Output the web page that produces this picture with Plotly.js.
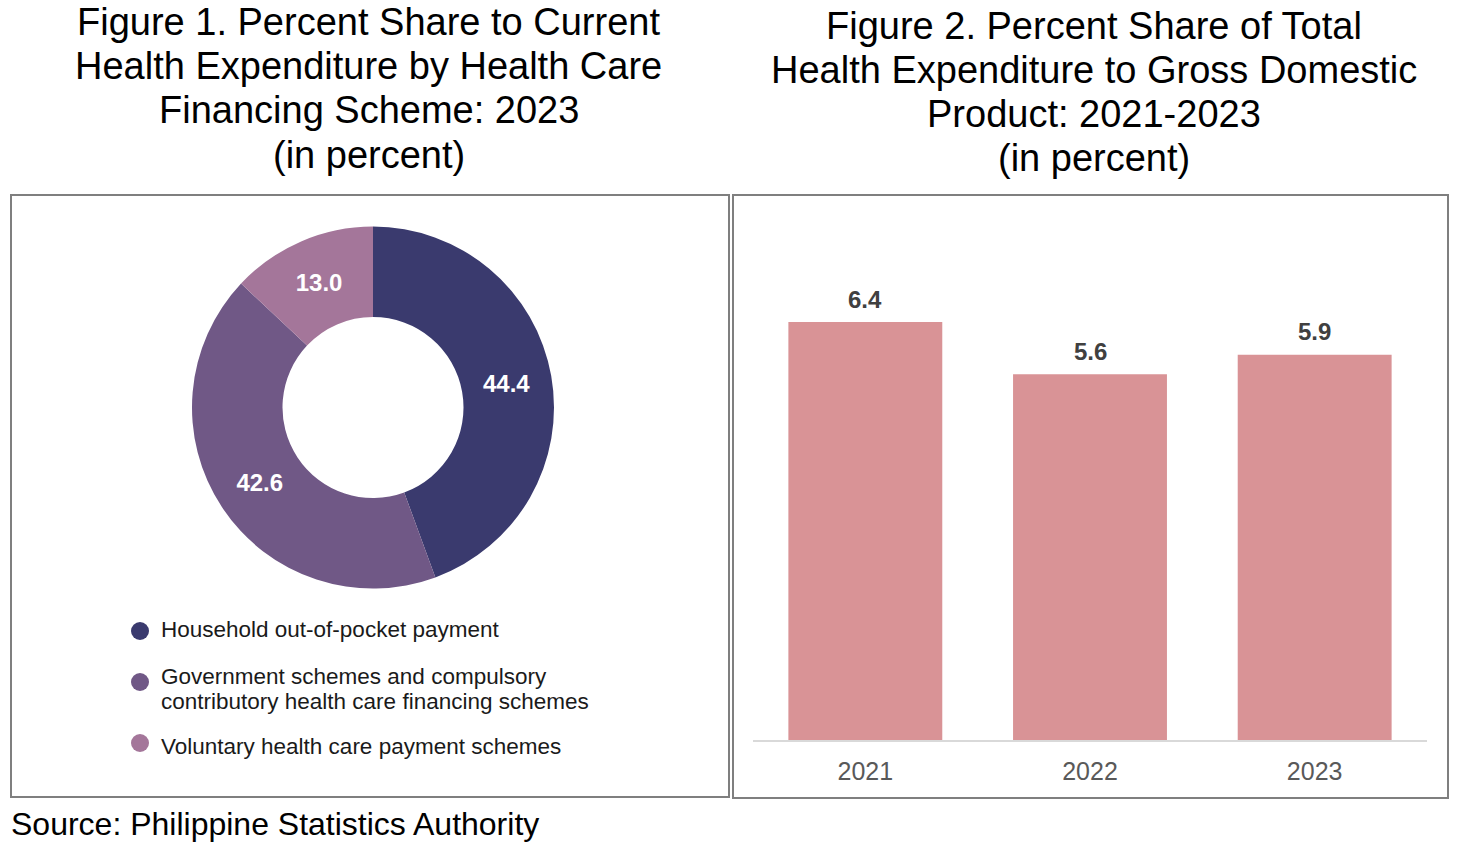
<!DOCTYPE html>
<html>
<head>
<meta charset="utf-8">
<script src="https://cdn.plot.ly/plotly-3.0.1.min.js"></script>
<style>
  html, body { margin: 0; padding: 0; background: #ffffff; }
  #chart { width: 1459px; height: 846px; }
</style>
</head>
<body>
<div id="chart"></div>
<script>
// ---------- Data ----------
const schemeLabels = [
  "Household out-of-pocket payment",
  "Government schemes and compulsory<br>contributory health care financing schemes",
  "Voluntary health care payment schemes"
];
const schemeShares = [44.4, 42.6, 13.0];
const schemeColors = ["#3A3A6E", "#705886", "#A4769A"];

const years = ["2021", "2022", "2023"];
const theShareGdp = [6.4, 5.6, 5.9];

const title1Lines = [
  "Figure 1. Percent Share to Current",
  "Health Expenditure by Health Care",
  "Financing Scheme: 2023",
  "(in percent)"
];
const title2Lines = [
  "Figure 2. Percent Share of Total",
  "Health Expenditure to Gross Domestic",
  "Product: 2021-2023",
  "(in percent)"
];
const sourceText = "Source: Philippine Statistics Authority";

// ---------- Layout helpers ----------
const W = 1459, H = 846;
const px = x => x / W;
const py = y => 1 - y / H;
const FONT = "Liberation Sans, Arial, sans-serif";

const annotations = [];
const shapes = [];

// Titles
const t1y = [22, 66, 110, 155];
title1Lines.forEach((t, i) => annotations.push({
  xref: "paper", yref: "paper", x: px(369), y: py(t1y[i]),
  xanchor: "center", yanchor: "middle", showarrow: false, text: t,
  font: {family: FONT, size: 38, color: "#000000"}
}));
const t2y = [26, 70, 114, 158];
title2Lines.forEach((t, i) => annotations.push({
  xref: "paper", yref: "paper", x: px(1094), y: py(t2y[i]),
  xanchor: "center", yanchor: "middle", showarrow: false, text: t,
  font: {family: FONT, size: 38, color: "#000000"}
}));

// Source
annotations.push({
  xref: "paper", yref: "paper", x: px(9), y: py(824),
  xanchor: "left", yanchor: "middle", showarrow: false, text: sourceText,
  font: {family: FONT, size: 32, color: "#000000"}
});

// Panel borders
shapes.push({type: "rect", xref: "paper", yref: "paper",
  x0: px(11), x1: px(729), y0: py(797), y1: py(195),
  line: {color: "#7F7F7F", width: 2}, fillcolor: "rgba(0,0,0,0)", layer: "below"});
shapes.push({type: "rect", xref: "paper", yref: "paper",
  x0: px(733), x1: px(1448), y0: py(798), y1: py(195),
  line: {color: "#7F7F7F", width: 2}, fillcolor: "rgba(0,0,0,0)", layer: "below"});

// Custom legend (circle markers + text)
const legY = [631, 682, 743];
const legTextY = [[629], [676, 701], [746]];
schemeLabels.forEach((lab, i) => {
  const r = 9;
  shapes.push({type: "circle", xref: "paper", yref: "paper",
    x0: px(140 - r), x1: px(140 + r), y0: py(legY[i] + r), y1: py(legY[i] - r),
    fillcolor: schemeColors[i], line: {width: 0}});
  lab.split("<br>").forEach((line, j) => annotations.push({
    xref: "paper", yref: "paper", x: px(159), y: py(legTextY[i][j]),
    xanchor: "left", yanchor: "middle", showarrow: false, text: line,
    font: {family: FONT, size: 22.5, color: "#1a1a1a"}
  }));
});

// Bar value labels (x given as category index)
years.forEach((yr, i) => annotations.push({
  xref: "x", yref: "y", x: i, y: theShareGdp[i],
  xanchor: "center", yanchor: "middle", yshift: 23, showarrow: false,
  text: theShareGdp[i].toFixed(1),
  font: {family: FONT, size: 24, color: "#404040", weight: "bold"}
}));

const barTrace = {
  type: "bar",
  x: years,
  y: theShareGdp,
  marker: {color: "#D99396"},
  width: 0.685,
  xaxis: "x", yaxis: "y",
  showlegend: false,
  hoverinfo: "x+y"
};

const pieTrace = {
  type: "pie",
  labels: schemeLabels,
  values: schemeShares,
  sort: false,
  direction: "clockwise",
  rotation: 0,
  hole: 0.5,
  marker: {colors: schemeColors, line: {color: "#ffffff", width: 0}},
  texttemplate: "%{value:.1f}",
  textposition: "inside",
  insidetextorientation: "horizontal",
  insidetextfont: {family: FONT, size: 24, color: "#ffffff", weight: "bold"},
  domain: {x: [px(192), px(554)], y: [py(589), py(226)]},
  showlegend: false,
  hoverinfo: "label+value"
};

const layout = {
  width: W, height: H,
  margin: {l: 0, r: 0, t: 0, b: 0},
  paper_bgcolor: "#ffffff",
  plot_bgcolor: "rgba(0,0,0,0)",
  showlegend: false,
  font: {family: FONT},
  xaxis: {
    type: "category",
    categoryorder: "array", categoryarray: years,
    range: [-0.5, years.length - 0.5],
    domain: [px(753), px(1427)],
    anchor: "y",
    showline: true, linecolor: "#D9D9D9", linewidth: 1.5,
    ticks: "", ticklabelstandoff: 8,
    tickfont: {family: FONT, size: 25, color: "#595959"},
    showgrid: false, zeroline: false, fixedrange: true
  },
  yaxis: {
    domain: [py(740), py(240)],
    anchor: "x",
    range: [0, 500 / 65.3],
    visible: false, showgrid: false, zeroline: false, fixedrange: true
  },
  annotations: annotations,
  shapes: shapes
};

Plotly.newPlot("chart", [barTrace, pieTrace], layout, {displayModeBar: false, staticPlot: true});
</script>
</body>
</html>
